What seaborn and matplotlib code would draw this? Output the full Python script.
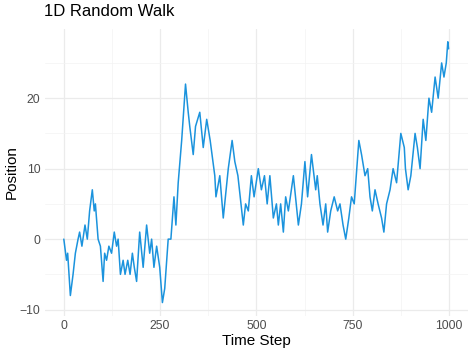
import matplotlib
matplotlib.use('Agg')
from matplotlib import pyplot as plt
from matplotlib.ticker import MultipleLocator
import pandas as pd
import seaborn as sns

# positions at turning points of the walk
steps = [0, 7, 10, 17, 24, 30, 37, 41, 47, 55, 61, 67, 74, 79, 82, 89, 95, 102, 106, 111,
         117, 124, 131, 137, 141, 147, 154, 159, 166, 172, 178, 183, 189, 197, 206, 215, 223,
         228, 234, 241, 249, 256, 262, 271, 278, 286, 291, 297, 306, 316, 323, 327, 336, 342,
         353, 362, 371, 380, 392, 395, 405, 414, 427, 437, 444, 452, 466, 472, 479, 487, 494,
         505, 513, 521, 528, 535, 544, 552, 557, 563, 570, 576, 583, 596, 609, 617, 626, 633,
         643, 654, 658, 665, 673, 680, 685, 693, 702, 711, 717, 725, 732, 740, 747, 754, 766,
         773, 782, 789, 795, 801, 808, 816, 825, 831, 838, 847, 855, 864, 875, 884, 887, 894,
         901, 912, 918, 925, 933, 940, 948, 955, 964, 972, 981, 987, 993, 997, 999]
position = [0, -3, -2, -8, -5, -2, 0, 1, -1, 2, 0, 4, 7, 4, 5, 0, -1, -6, -2, -3,
            -1, -2, 1, -1, 0, -5, -3, -5, -3, -5, -2, -4, -6, 1, -4, 2, -2,
            0, -4, -1, -4, -9, -7, 0, 0, 6, 2, 8, 14, 22, 18, 16, 12, 16,
            18, 13, 17, 14, 9, 6, 9, 3, 10, 14, 11, 9, 2, 5, 4, 9, 6,
            10, 7, 9, 5, 9, 3, 5, 2, 5, 1, 6, 4, 9, 2, 5, 11, 6,
            12, 7, 9, 5, 2, 5, 1, 4, 6, 4, 5, 2, 0, 3, 6, 5, 14,
            12, 9, 10, 6, 4, 7, 5, 3, 1, 5, 7, 10, 8, 15, 13, 10, 7,
            9, 15, 13, 10, 17, 14, 20, 18, 23, 20, 25, 23, 25, 28, 27]

x_ticks = [0, 250, 500, 750, 1000]
y_ticks = [-10, 0, 10, 20]

df = pd.DataFrame({'Time Step': steps, 'Position': position})

sns.set_theme(style='whitegrid')
plt.rcParams['font.family'] = ['Liberation Sans', 'DejaVu Sans']

fig = plt.figure(figsize=(4.74, 3.55), dpi=100)
ax = fig.add_axes([0.094, 0.111, 0.893, 0.808])

sns.lineplot(data=df, x='Time Step', y='Position', ax=ax, color='#1b93dd', linewidth=1.1)

ax.set_xlim(-50, 1049)
ax.set_ylim(-10.85, 29.85)
ax.set_xticks(x_ticks)
ax.set_yticks(y_ticks)
ax.xaxis.set_minor_locator(MultipleLocator(125))
ax.yaxis.set_minor_locator(MultipleLocator(5))
ax.grid(which='major', color='#ebebeb', linewidth=0.9)
ax.grid(which='minor', color='#f3f3f3', linewidth=0.5)
for s in ax.spines.values():
    s.set_visible(False)
ax.tick_params(axis='both', which='both', length=0, labelsize=8.8, labelcolor='#4d4d4d', pad=3)

ax.set_xlabel('Time Step', fontsize=11, color='black')
ax.set_ylabel('Position', fontsize=11, color='black')
ax.xaxis.set_label_coords(0.5, -0.064)
ax.yaxis.set_label_coords(-0.061, 0.5)
fig.text(0.093, 0.967, '1D Random Walk', fontsize=12, color='black', ha='left', va='center')

fig.savefig('out.png', dpi=100, facecolor='white')
